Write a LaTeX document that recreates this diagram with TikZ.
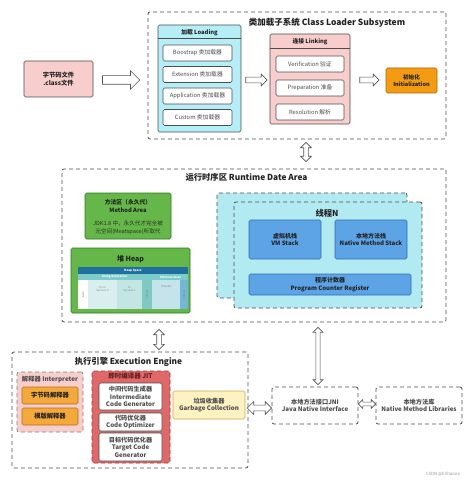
\documentclass[tikz,border=0pt]{standalone}
\usepackage{fontspec}
\setmainfont{Noto Sans CJK SC}
\usetikzlibrary{shapes.arrows,calc}
\definecolor{linec}{HTML}{4D4D4D}
\definecolor{textc}{HTML}{222222}
\definecolor{pinkf}{HTML}{F8CECC}
\definecolor{cyanf}{HTML}{B5EEF6}
\definecolor{threadf}{HTML}{B2EAF1}
\definecolor{initf}{HTML}{F39C12}
\definecolor{initb}{HTML}{B46504}
\definecolor{greenf}{HTML}{64B748}
\definecolor{greenb}{HTML}{2D7A1F}
\definecolor{bluef}{HTML}{5CA4E6}
\definecolor{blueb}{HTML}{2E6DB4}
\definecolor{orangef}{HTML}{F5A93A}
\definecolor{orangeb}{HTML}{B07020}
\definecolor{jitf}{HTML}{E06868}
\definecolor{jitb}{HTML}{A33333}
\definecolor{gcf}{HTML}{FFF2C2}
\definecolor{gcb}{HTML}{C9A94A}
\definecolor{hsdark}{HTML}{1F6F9F}
\definecolor{hsteal}{HTML}{7ECBCB}
\definecolor{arrowc}{HTML}{555555}
\newcommand\fsz[2]{\fontsize{#1}{#2}\selectfont}
\newcommand\hollow[3]{\path let \p1=(#2), \p2=(#3), \n1={veclen(\x2-\x1,\y2-\y1)}, \n2={atan2(\y2-\y1,\x2-\x1)} in node[#1, minimum height=\n1, rotate=\n2] at ($(\p1)!0.5!(\p2)$) {};}
\tikzset{
  box/.style={draw=linec, line width=0.6pt, rounded corners=1.5pt, inner sep=0pt, align=center, text=textc},
  dbox/.style={draw=linec, line width=0.8pt, dash pattern=on 4pt off 3pt, rounded corners=2pt, inner sep=0pt},
  ttl/.style={font=\fsz{8.3}{10}\bfseries, text=textc, inner sep=0pt},
  sarr/.style 2 args={single arrow, draw=arrowc, fill=white, line width=0.6pt, inner sep=#1, single arrow head extend=#2, minimum width=0pt, outer sep=0pt},
  darr/.style 2 args={double arrow, draw=arrowc, fill=white, line width=0.6pt, inner sep=#1, double arrow head extend=#2, minimum width=0pt, outer sep=0pt},
  small/.style={font=\fsz{5.8}{7}},
  smallb/.style={font=\fsz{6}{7.3}\bfseries},
  tiny/.style={font=\fsz{2.6}{3}, inner sep=0pt, text=textc, align=center},
}
\begin{document}
\begin{tikzpicture}[x=1pt,y=-1pt]
\useasboundingbox[fill=white] (0,0) rectangle (474,481);

% ---------- Class loader subsystem ----------
\node[dbox, minimum width=298, minimum height=127] (cls) at (297,75.5) {};
\node[ttl, font=\fsz{8.5}{10}\bfseries] (clst) at (327,23) {类加载子系统 Class Loader Subsystem};

\node[box, fill=pinkf, minimum width=69, minimum height=36, font=\fsz{6.3}{8}\bfseries] (bc) at (58.5,79) {字节码文件\\.class文件};

\node[box, fill=cyanf, minimum width=83, minimum height=107] (loading) at (199.5,78.5) {};
\draw[draw=linec, line width=0.6pt] ($(loading.north west)+(0,14)$) -- ($(loading.north east)+(0,14)$);
\node[inner sep=0pt, font=\fsz{5.8}{7}\bfseries, text=textc] (loadt) at (199.5,32.5) {加载 Loading};
\foreach \n/\y/\t in {b1/53/Boostrap 类加载器, b2/74.5/Extension 类加载器, b3/96/Application 类加载器, b4/117.5/Custom 类加载器}
  \node[box, fill=white, minimum width=69, minimum height=16, small, text=linec] (\n) at (197.5,\y) {\t};

\node[box, fill=pinkf, minimum width=80, minimum height=90] (linking) at (310,79) {};
\draw[draw=linec, line width=0.6pt] ($(linking.north west)+(0,15)$) -- ($(linking.north east)+(0,15)$);
\node[inner sep=0pt, font=\fsz{5.8}{7}\bfseries, text=textc] (linkt) at (310,41.5) {连接 Linking};
\foreach \n/\y/\t in {v1/64/Verification 验证, v2/88/Preparation 准备, v3/112/Resolution 解析}
  \node[box, fill=white, minimum width=68, minimum height=16, small, text=linec] (\n) at (310,\y) {\t};

\node[box, fill=initf, draw=initb, minimum width=51, minimum height=25, font=\fsz{5.6}{7}\bfseries] (init) at (411.5,80.5) {初始化\\Initialization};

\hollow{sarr={4pt}{5pt}, name=a1}{$(bc.east)+(7,1)$}{$(cls.west)+(-10,4.5)$}
\hollow{sarr={2.6pt}{3pt}, name=a2}{$(loading.east)+(3,1.5)$}{$(linking.west)+(-4,1)$}
\hollow{sarr={2.6pt}{3pt}, name=a3}{$(linking.east)+(8,1)$}{$(init.west)+(-8,-0.5)$}

% ---------- Runtime data area ----------
\node[dbox, minimum width=384, minimum height=153] (runtime) at (254,245.5) {};
\node[ttl] (rtt) at (246.5,177.5) {运行时序区 Runtime Date Area};

\hollow{darr={2pt}{3pt}, name=a4}{$(cls.south)+(9,3)$}{$(runtime.north)+(52,-7)$}

\node[box, fill=greenf, draw=greenb, minimum width=86, minimum height=46, text=textc] (method) at (128,216) {};
\node[inner sep=0pt, font=\fsz{5.8}{7.4}\bfseries, align=center, text=textc] (mt1) at (128,206) {方法区（永久代）\\Method Area};
\node[inner sep=0pt, font=\fsz{5.6}{7.6}, align=center, text=textc!80!greenb] (mt2) at (128,228) {JDK1.8 中，永久代才完全被\\元空间(Meatspace)所取代};

\node[box, fill=greenf, draw=greenb, minimum width=119, minimum height=65] (heap) at (130.5,280.5) {};
\node[inner sep=0pt, font=\fsz{7}{8}\bfseries, text=textc] (heapt) at (130.5,259) {堆 Heap};
\fill[hsdark] (78,267) rectangle (188,274);
\fill[hsteal] (78,274) rectangle (188,280);
\fill[white] (78,280) rectangle (88,309);
\fill[fill={rgb,255:red,217;green,239;blue,239}] (88,280) rectangle (117,309);
\fill[fill={rgb,255:red,195;green,229;blue,227}] (117,280) rectangle (142,309);
\fill[fill={rgb,255:red,127;green,201;blue,195}] (142,280) rectangle (152,309);
\fill[fill={rgb,255:red,197;green,227;blue,235}] (152,280) rectangle (180,309);
\fill[fill={rgb,255:red,116;green,182;blue,214}] (180,280) rectangle (188,309);
\node[tiny, text=white, font=\fsz{3}{3.5}\bfseries] (hs) at (133,270.5) {Heap Space};
\node[tiny, text=white, font=\fsz{2.8}{3.2}\bfseries] (yg) at (114.5,277) {Young Generation};
\node[tiny, text=white, font=\fsz{2.8}{3.2}\bfseries] (og) at (170.5,277) {Old Generation};
\node[tiny, rotate=90, text=gray] (c1) at (83,294.5) {Eden};
\node[tiny, text=gray] (c2) at (102.5,289) {From\\Survivor 0};
\node[tiny, text=gray] (c3) at (129.5,289) {To\\Survivor 1};
\node[tiny, rotate=90, text=gray] (c4) at (147,294.5) {Virtual};
\node[tiny, text=gray] (c5) at (166,286) {Tenured};
\node[tiny, rotate=90, text=gray] (c6) at (184,294.5) {Virtual};

\node[dbox, fill=threadf, minimum width=190, minimum height=105] (thb) at (312,245.5) {};
\node[dbox, fill=threadf, minimum width=188, minimum height=106] (thf) at (328,255) {};
\node[inner sep=0pt, font=\fsz{8.3}{10}\bfseries, text=textc] (tht) at (327,213) {线程N};
\node[box, fill=bluef, draw=blueb, minimum width=72, minimum height=39, smallb] (vm) at (285,239.5) {虚拟机栈\\VM Stack};
\node[box, fill=bluef, draw=blueb, minimum width=72, minimum height=39, smallb] (nms) at (371,239.5) {本地方法栈\\Native Method Stack};
\node[box, fill=bluef, draw=blueb, minimum width=162, minimum height=21, smallb] (pc) at (330,284.5) {程序计数器\\Program Counter Register};

% ---------- Execution engine ----------
\node[dbox, fill=white, minimum width=236, minimum height=116] (exec) at (130,410) {};
\node[ttl] (ext) at (128.5,362) {执行引擎 Execution Engine};

\hollow{darr={2pt}{3pt}, name=a5}{$(runtime.south)+(-95,7)$}{$(exec.north)+(29,-2)$}

\node[dbox, fill=pinkf, draw=gray, line width=0.7pt, minimum width=66, minimum height=60] (interp) at (50,402) {};
\node[inner sep=0pt, font=\fsz{6.3}{7.5}\bfseries, text=linec] (interpt) at (50,379.5) {解释器 Interpreter};
\node[box, fill=orangef, draw=orangeb, minimum width=56, minimum height=17, font=\fsz{6.3}{7.5}\bfseries] (o1) at (50,395.5) {字节码解释器};
\node[box, fill=orangef, draw=orangeb, minimum width=56, minimum height=17, font=\fsz{6.3}{7.5}\bfseries] (o2) at (50,416.5) {模版解释器};

\node[dbox, fill=jitf, draw=jitb, line width=0.7pt, minimum width=78, minimum height=92] (jit) at (131,417) {};
\node[inner sep=0pt, font=\fsz{6.5}{7.5}\bfseries, text=jitb!60!black] (jitt) at (130.5,376) {即时编译器 JIT};
\node[box, fill=white, minimum width=63, minimum height=27, font=\fsz{6.2}{7.6}\bfseries, text=linec] (j1) at (130.5,396.5) {中间代码生成器\\Intermediate\\Code Generator};
\node[box, fill=white, minimum width=63, minimum height=18, font=\fsz{6.2}{7.6}\bfseries, text=linec] (j2) at (130.5,422) {代码优化器\\Code Optimizer};
\node[box, fill=white, minimum width=63, minimum height=28, font=\fsz{6.2}{7.6}\bfseries, text=linec] (j3) at (130.5,447) {目标代码优化器\\Target Code\\Generator};

\node[box, fill=gcf, draw=gcb, minimum width=72, minimum height=28, font=\fsz{6.2}{7.6}\bfseries, text=linec] (gc) at (209,405) {垃圾收集器\\Garbage Collection};

\node[dbox, fill=white, minimum width=86, minimum height=37, align=center, font=\fsz{6.2}{7.6}\bfseries, text=linec] (jni) at (315,405.5) {本地方法接口JNI\\Java Native Interface};
\node[dbox, fill=white, minimum width=86, minimum height=37, align=center, font=\fsz{6.2}{7.6}\bfseries, text=linec] (lib) at (419,405.5) {本地方法库\\Native Method Libraries};

\hollow{darr={1.8pt}{2.8pt}, name=a6}{$(runtime.south)+(64,5)$}{$(jni.north)+(3,-2)$}
\hollow{darr={2.6pt}{3.5pt}, name=a7}{$(gc.east)+(2,3)$}{$(jni.west)+(0,2.5)$}
\hollow{darr={1.6pt}{2.5pt}, name=a8}{$(jni.east)+(0,-1.5)$}{$(lib.west)+(0,-1.5)$}

\node[inner sep=0pt, font=\fsz{4.3}{5}, text=gray!80] (wm) at (443,474) {CSDN @EShaooo};
\end{tikzpicture}
\end{document}
